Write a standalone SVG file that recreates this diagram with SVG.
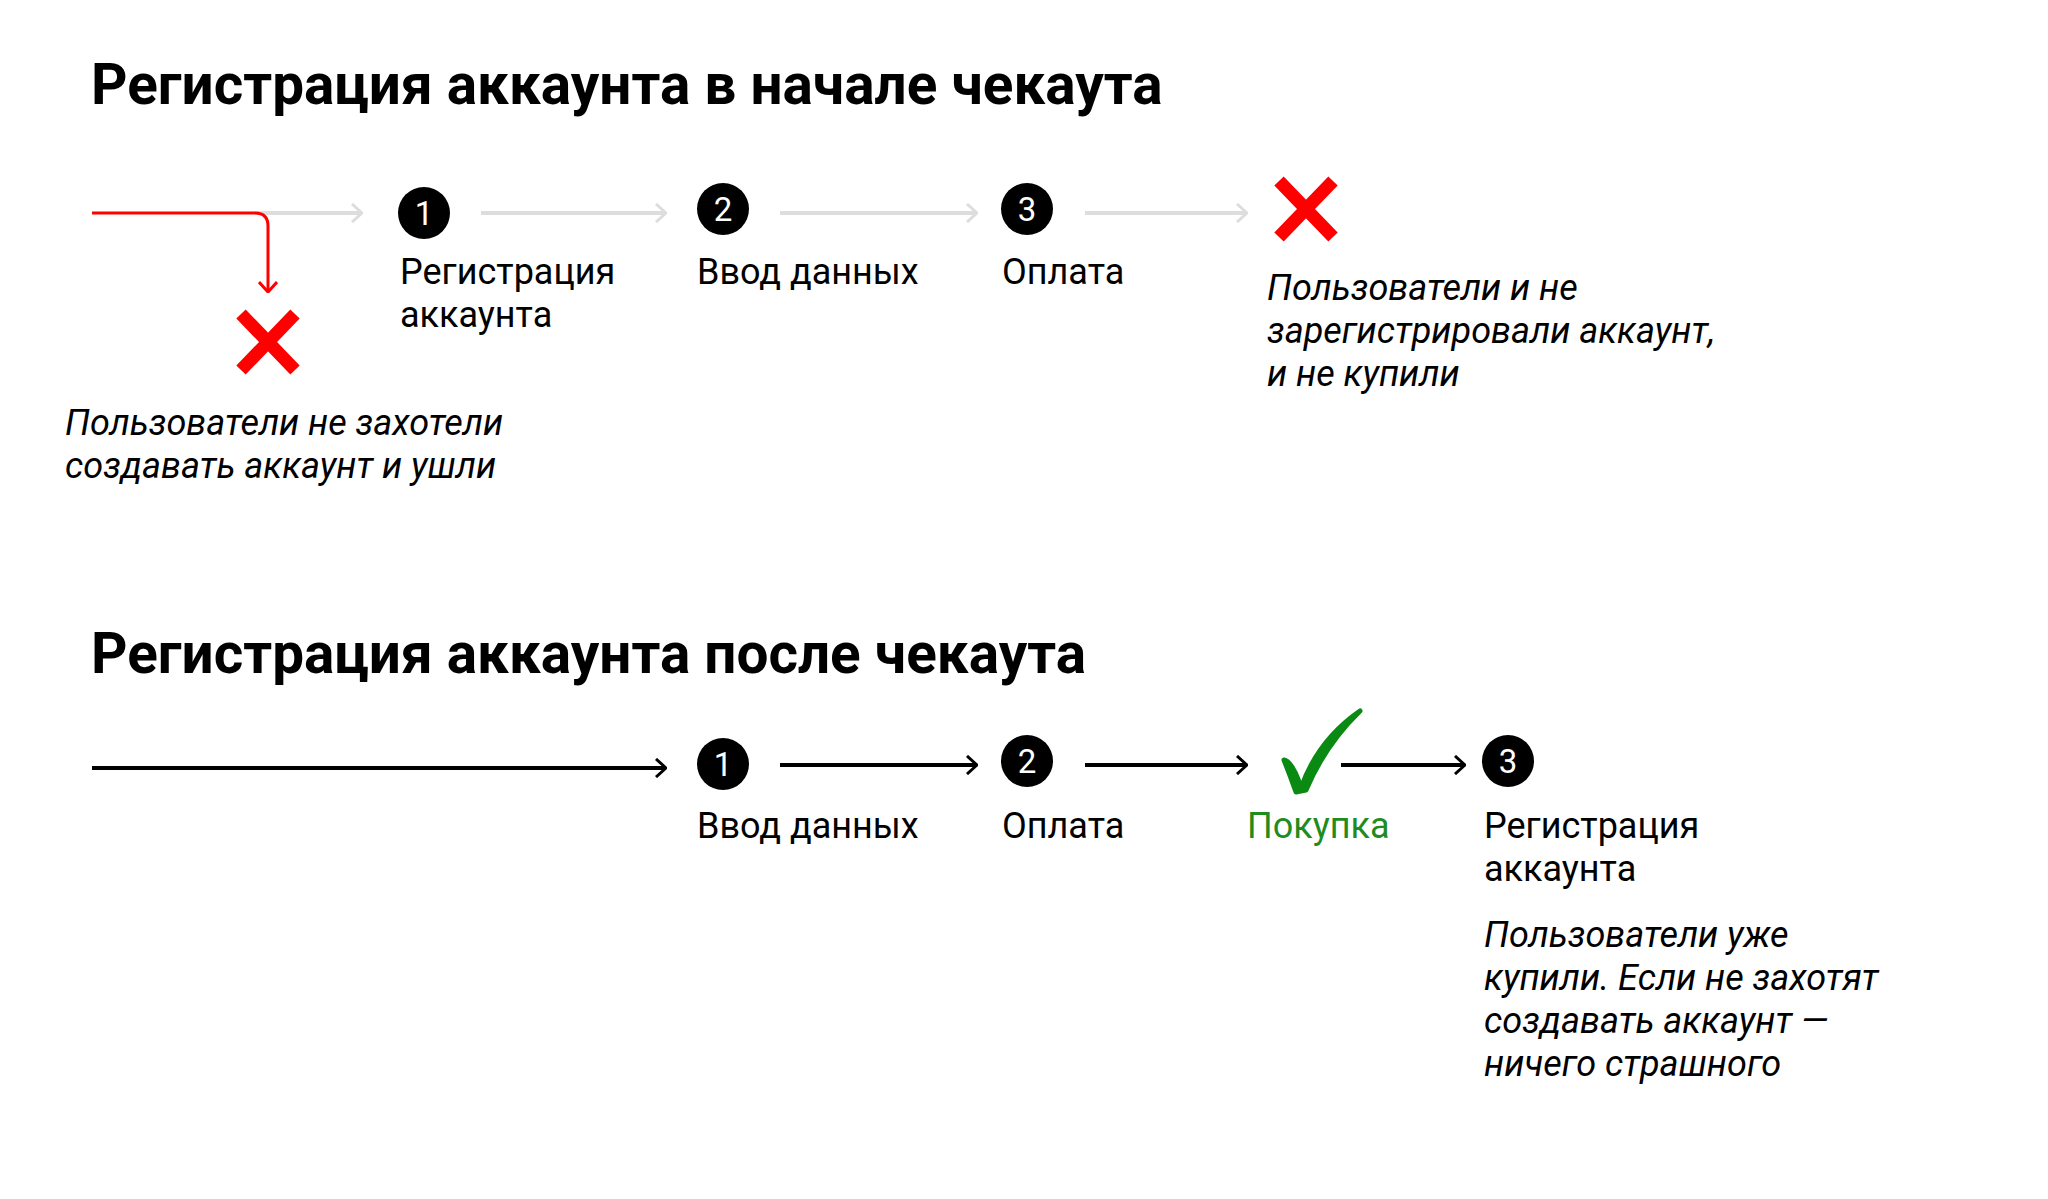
<svg xmlns="http://www.w3.org/2000/svg" width="2048" height="1199" viewBox="0 0 2048 1199">
<defs>
<style>
text{font-family:Roboto,"Liberation Sans",sans-serif;fill:#000}
.h{font-size:56.7px;font-weight:700}
.l{font-size:36px}
.i{font-size:36px;font-style:italic}
.g{stroke:#ddd;stroke-width:4;fill:none}
.b{stroke:#000;stroke-width:4;fill:none}
.num{font-size:33px;fill:#fff;text-anchor:middle}
.x{stroke:#f00;stroke-width:13;fill:none}
</style>
<marker id="ag" viewBox="0 0 12 20" refX="11" refY="10" markerWidth="12" markerHeight="20" markerUnits="userSpaceOnUse" orient="auto"><path d="M1 1 L11 10 L1 19" fill="none" stroke="#ddd" stroke-width="3"/></marker>
<marker id="ab" viewBox="0 0 12 20" refX="11" refY="10" markerWidth="12" markerHeight="20" markerUnits="userSpaceOnUse" orient="auto"><path d="M1 1 L11 10 L1 19" fill="none" stroke="#000" stroke-width="3"/></marker>
<marker id="ar" viewBox="0 0 12 20" refX="11" refY="10" markerWidth="12" markerHeight="20" markerUnits="userSpaceOnUse" orient="auto"><path d="M1 1 L11 10 L1 19" fill="none" stroke="#f00" stroke-width="3"/></marker>
</defs>
<rect width="2048" height="1199" fill="#fff"/>
<text class="h" x="91" y="104">Регистрация аккаунта в начале чекаута</text>
<text class="h" x="91" y="673">Регистрация аккаунта после чекаута</text>
<g id="connectors">
<line class="g" x1="255" y1="213" x2="362" y2="213" marker-end="url(#ag)"/>
<path d="M92 213 H255 Q268 213 268 226 V292" stroke="#f00" stroke-width="3" fill="none" marker-end="url(#ar)"/>
<line class="g" x1="481" y1="213" x2="666" y2="213" marker-end="url(#ag)"/>
<line class="g" x1="780" y1="213" x2="977" y2="213" marker-end="url(#ag)"/>
<line class="g" x1="1085" y1="213" x2="1247" y2="213" marker-end="url(#ag)"/>
<line class="b" x1="92" y1="768" x2="666" y2="768" marker-end="url(#ab)"/>
<line class="b" x1="780" y1="765" x2="977" y2="765" marker-end="url(#ab)"/>
<line class="b" x1="1085" y1="765" x2="1247" y2="765" marker-end="url(#ab)"/>
<line class="b" x1="1341" y1="765" x2="1465" y2="765" marker-end="url(#ab)"/>
</g>
<g id="t1"><circle cx="424" cy="213" r="26"/><text class="num" x="424" y="225">1</text><text class="l" x="400" y="284">Регистрация</text><text class="l" x="400" y="327">аккаунта</text></g>
<g id="t2"><circle cx="723" cy="209" r="26"/><text class="num" x="723" y="221">2</text><text class="l" x="697" y="284">Ввод данных</text></g>
<g id="t3"><circle cx="1027" cy="209" r="26"/><text class="num" x="1027" y="221">3</text><text class="l" x="1002" y="284">Оплата</text></g>
<g id="tx1"><path class="x" d="M241 314 L295 370 M295 314 L241 370"/><text class="i" x="65" y="435">Пользователи не захотели</text><text class="i" x="65" y="478">создавать аккаунт и ушли</text></g>
<g id="tx2"><path class="x" d="M1279 181 L1333 237 M1333 181 L1279 237"/><text class="i" x="1267" y="300">Пользователи и не</text><text class="i" x="1267" y="343">зарегистрировали аккаунт,</text><text class="i" x="1267" y="386">и не купили</text></g>
<g id="b1"><circle cx="723" cy="764" r="26"/><text class="num" x="723" y="776">1</text><text class="l" x="697" y="838">Ввод данных</text></g>
<g id="b2"><circle cx="1027" cy="761" r="26"/><text class="num" x="1027" y="773">2</text><text class="l" x="1002" y="838">Оплата</text></g>
<g id="bok"><path d="M1284 760 Q1293 762 1301 788 Q1318 740 1360 711 Q1325 745 1306 790 L1296 792 Q1290 775 1284 760 Z" fill="#0a8a12" stroke="#0a8a12" stroke-width="5" stroke-linejoin="round"/><text class="l" x="1247" y="838" style="fill:#1e8c1e">Покупка</text></g>
<g id="b3"><circle cx="1508" cy="761" r="26"/><text class="num" x="1508" y="773">3</text><text class="l" x="1484" y="838">Регистрация</text><text class="l" x="1484" y="881">аккаунта</text>
<text class="i" x="1484" y="947">Пользователи уже</text><text class="i" x="1484" y="990">купили. Если не захотят</text><text class="i" x="1484" y="1033">создавать аккаунт —</text><text class="i" x="1484" y="1076">ничего страшного</text></g>
</svg>
